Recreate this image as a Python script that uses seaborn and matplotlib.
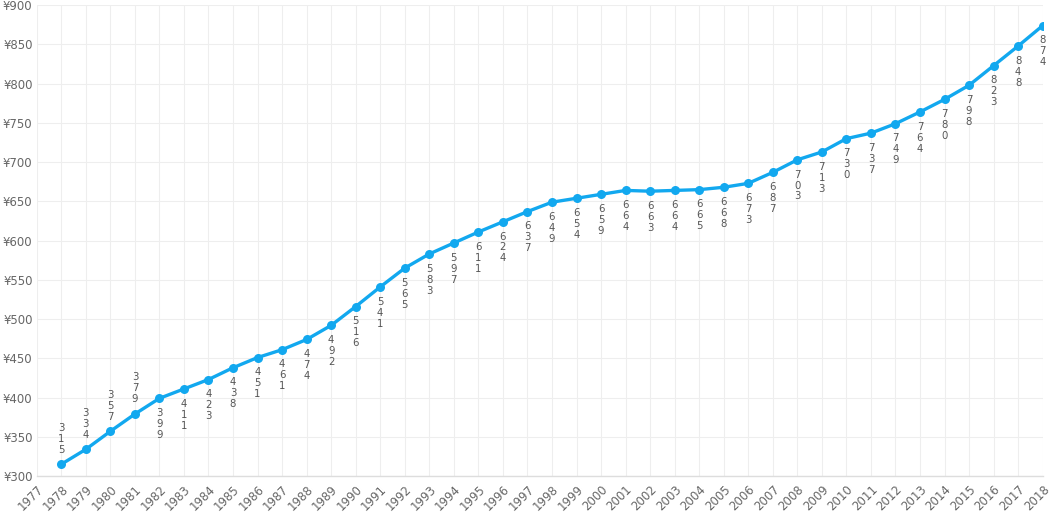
import matplotlib
matplotlib.use("Agg")
import matplotlib.pyplot as plt
import matplotlib.transforms as mtransforms
import seaborn as sns
import pandas as pd

years = list(range(1978, 2019))
values = [315, 334, 357, 379, 399, 411, 423, 438, 451, 461, 474, 492, 516, 541,
          565, 583, 597, 611, 624, 637, 649, 654, 659, 664, 663, 664, 665, 668,
          673, 687, 703, 713, 730, 737, 749, 764, 780, 798, 823, 848, 874]
tick_years = list(range(1977, 2019))
y_ticks = [300, 350, 400, 450, 500, 550, 600, 650, 700, 750, 800, 850, 900]
labels_above = [1978, 1979, 1980, 1981]

df = pd.DataFrame({"year": years, "value": values})

sns.set_style("white")
plt.rcParams['font.family'] = ['DejaVu Sans']

fig = plt.figure(figsize=(10.5, 5.25), dpi=100)
ax = fig.add_axes([0.035, 0.0933, 0.958, 0.8967])

line_color = "#12a8ef"
sns.lineplot(data=df, x="year", y="value", ax=ax, color=line_color, linewidth=2.4,
             marker="o", markersize=6.5, markeredgewidth=0, markeredgecolor=line_color)

for yr, v in zip(years, values):
    txt = "\n".join(str(v))
    if yr in labels_above:
        ax.annotate(txt, (yr, v), xytext=(0, 7), textcoords="offset points",
                    ha="center", va="bottom", fontsize=7.3, color="#555555",
                    linespacing=1.12)
    else:
        ax.annotate(txt, (yr, v), xytext=(0, -7), textcoords="offset points",
                    ha="center", va="top", fontsize=7.3, color="#555555",
                    linespacing=1.12)

ax.set_xlim(1977, 2018)
ax.set_ylim(300, 900)
ax.set_xticks(tick_years)
ax.set_xticklabels([str(t) for t in tick_years], rotation=45, ha="right",
                   rotation_mode="anchor", fontsize=8.5, color="#666666")
shift = mtransforms.ScaledTranslation(-3 / 72, 0, fig.dpi_scale_trans)
for lbl in ax.get_xticklabels():
    lbl.set_transform(lbl.get_transform() + shift)
ax.set_yticks(y_ticks)
ax.set_yticklabels([f"¥{t}" for t in y_ticks], fontsize=8.5, color="#666666")
ax.tick_params(axis="both", length=0, pad=3)
ax.tick_params(axis="x", pad=5)

ax.grid(True, color="#eeeeee", linewidth=0.8)
ax.set_axisbelow(True)
for s in ["top", "right", "left"]:
    ax.spines[s].set_visible(False)
ax.spines["bottom"].set_color("#dddddd")
ax.spines["bottom"].set_linewidth(1)
ax.set_xlabel("")
ax.set_ylabel("")

fig.savefig("out.png", dpi=100)
